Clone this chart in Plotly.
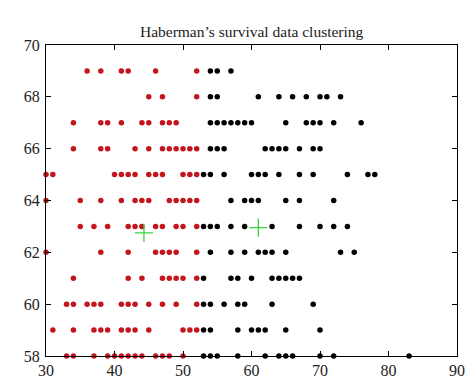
import plotly.graph_objects as go

# Cluster 1 (red): points per operation year -> patient ages
red_rows = {
    69: [36, 38, 41, 42, 46, 52],
    68: [45, 47, 52],
    67: [34, 38, 39, 41, 44, 45, 47, 48, 49],
    66: [34, 38, 39, 43, 45, 47, 48, 49, 50, 51, 52],
    65: [30, 31, 40, 41, 42, 43, 45, 46, 47, 50, 51, 52],
    64: [30, 35, 38, 41, 43, 44, 45, 48, 49, 50, 51, 52],
    63: [35, 37, 39, 42, 43, 44, 46, 47, 49, 50, 52],
    62: [30, 38, 42, 46, 47, 48, 49, 52],
    61: [34, 42, 44, 47, 48, 49, 50, 52],
    60: [33, 34, 36, 37, 38, 41, 42, 43, 45, 47, 49, 52],
    59: [31, 34, 37, 38, 39, 41, 42, 43, 45, 50, 51, 52],
    58: [33, 34, 37, 39, 40, 41, 42, 43, 44, 46, 47, 48, 50],
}
# Cluster 2 (black)
black_rows = {
    69: [54, 55, 57],
    68: [54, 55, 61, 64, 66, 68, 70, 71, 73],
    67: [54, 55, 56, 57, 58, 59, 60, 65, 68, 69, 70, 72, 76],
    66: [54, 55, 56, 62, 63, 64, 65, 67, 69, 70],
    65: [53, 54, 56, 60, 61, 62, 64, 67, 69, 74, 77, 78],
    64: [57, 59, 60, 61, 65, 67, 72],
    63: [53, 54, 55, 57, 59, 63, 67, 70, 72, 74],
    62: [54, 57, 59, 61, 62, 63, 65, 73, 75],
    61: [53, 57, 58, 60, 63, 64, 65, 66, 67],
    60: [53, 54, 56, 58, 59, 63, 69],
    59: [53, 54, 58, 60, 61, 62, 65, 70],
    58: [53, 54, 55, 58, 62, 64, 65, 66, 70, 72, 83],
}
centers_x = [44.3, 61.0]
centers_y = [62.75, 62.95]

x_ticks = [30, 40, 50, 60, 70, 80, 90]
y_ticks = [58, 60, 62, 64, 66, 68, 70]


def flatten(rows):
    xs, ys = [], []
    for yr, ages in rows.items():
        for a in ages:
            xs.append(a)
            ys.append(yr)
    return xs, ys


rx, ry = flatten(red_rows)
bx, by = flatten(black_rows)

fig = go.Figure()
fig.add_trace(go.Scatter(x=rx, y=ry, mode="markers", cliponaxis=False,
                         marker=dict(color="#c3151c", size=5.5, line=dict(width=0))))
fig.add_trace(go.Scatter(x=bx, y=by, mode="markers", cliponaxis=False,
                         marker=dict(color="#000000", size=5.5, line=dict(width=0))))
fig.add_trace(go.Scatter(x=centers_x, y=centers_y, mode="markers", cliponaxis=False,
                         marker=dict(symbol="cross-thin", size=13, color="#3ad43a",
                                     line=dict(width=1.3, color="#3ad43a"))))

axis_common = dict(showline=True, linecolor="black", linewidth=1, mirror="ticks",
                   ticks="inside", ticklen=5, tickcolor="black", showgrid=False,
                   zeroline=False, automargin=False,
                   tickfont=dict(family="Liberation Serif", size=16, color="#222"))

fig.update_layout(
    width=474, height=390,
    margin=dict(l=38, r=25, t=37, b=42),
    paper_bgcolor="white", plot_bgcolor="white",
    showlegend=False,
    title=dict(text="Haberman’s survival data clustering", x=0.514, xanchor="center",
               y=0.94, yanchor="middle", automargin=False,
               font=dict(family="Liberation Serif", size=15.5, color="#222")),
    xaxis=dict(range=[30, 90], tickvals=x_ticks, **axis_common),
    yaxis=dict(range=[58, 70], tickvals=y_ticks, ticklabelstandoff=2, **axis_common),
)

fig.write_html("out.html")
